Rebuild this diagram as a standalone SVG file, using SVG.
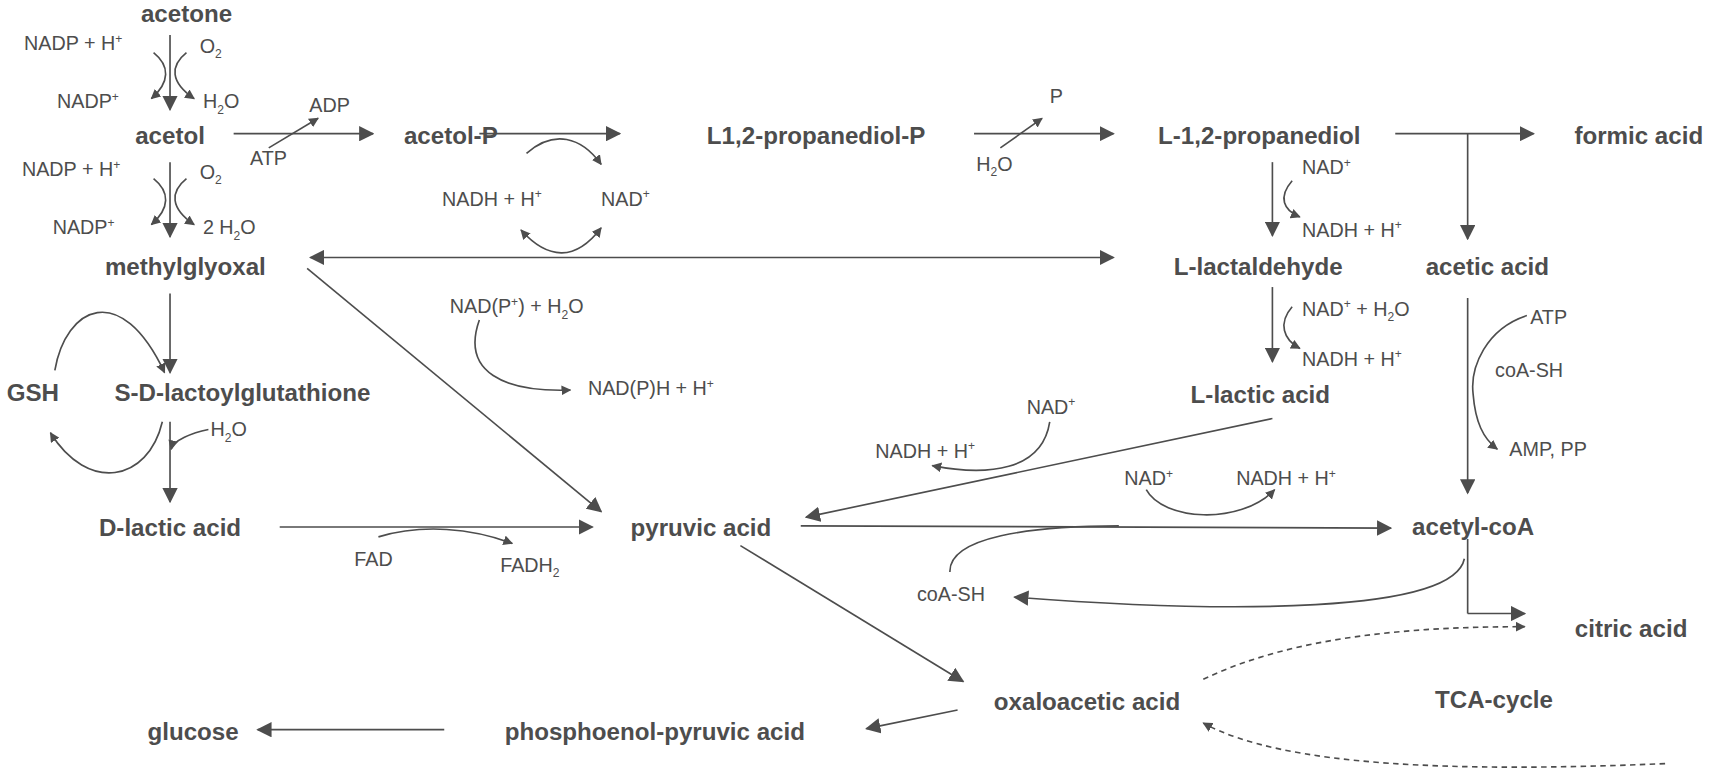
<svg xmlns="http://www.w3.org/2000/svg" width="1720" height="779" viewBox="0 0 1720 779">
<defs>
<marker id="a" viewBox="0 0 10 10" refX="9" refY="5" markerWidth="9" markerHeight="9" markerUnits="userSpaceOnUse" orient="auto-start-reverse"><path d="M0,0 L10,5 L0,10 z" fill="#4d4d4d"/></marker>
<marker id="b" viewBox="0 0 10 10" refX="9" refY="5" markerWidth="14" markerHeight="14" markerUnits="userSpaceOnUse" orient="auto-start-reverse"><path d="M0,0 L10,5 L0,10 z" fill="#4d4d4d"/></marker>
<style>
text{font-family:"Liberation Sans",Arial,sans-serif;fill:#4d4d4d}
.n{font-weight:bold;font-size:22px}
.s{font-size:18px}
.c path{fill:none;stroke:#4d4d4d;stroke-width:1.5}
.c .m{marker-end:url(#b)}
.c .k{marker-end:url(#a)}
.c .d{stroke-dasharray:5,4;marker-end:url(#a)}
</style>
</defs>
<rect width="1720" height="779" fill="#fff"/>
<g transform="scale(1.0969,1.0956)">
<g class="c" id="connectors">
<path class="m" d="M155,32 V100"/>
<path class="k" d="M140,48 C155,60 155,75 138,90"/>
<path class="k" d="M170,48 C155,60 155,75 177,90"/>
<path class="m" d="M213,122 H340"/>
<path class="k" d="M245,135 L290,108"/>
<path class="m" d="M155,148 V216"/>
<path class="k" d="M140,163 C155,175 155,190 138,205"/>
<path class="k" d="M170,163 C155,175 155,190 177,205"/>
<path class="m" d="M437,122 H565"/>
<path class="k" d="M480,140 C505,118 530,125 548,150"/>
<path class="k" style="marker-start:url(#a)" d="M475,210 C500,238 525,238 548,208"/>
<path class="m" d="M888,122 H1015"/>
<path class="k" d="M912,135 L950,108"/>
<path class="m" d="M1272,122 H1398"/>
<path class="m" d="M1338,122 V218"/>
<path class="m" d="M1160,148 V215"/>
<path class="k" d="M1178,165 C1165,180 1170,192 1185,198"/>
<path class="m" style="marker-start:url(#b)" d="M283,235 H1015"/>
<path class="m" d="M1160,262 V330"/>
<path class="k" d="M1178,280 C1165,295 1170,310 1185,318"/>
<path class="m" d="M1338,272 V450"/>
<path class="k" d="M1392,288 C1355,300 1340,335 1343,360 C1345,385 1352,400 1365,410"/>
<path class="m" d="M155,268 V340"/>
<path class="k" d="M50,338 C60,280 110,255 150,340"/>
<path class="k" d="M148,385 C135,440 80,450 46,395"/>
<path class="m" d="M155,385 V458"/>
<path class="k" d="M190,392 C175,395 158,402 156,410"/>
<path class="m" d="M255,481 H540"/>
<path class="k" d="M345,490 C385,478 430,482 467,496"/>
<path class="m" d="M280,245 L548,467"/>
<path class="k" d="M437,292 C420,340 460,358 520,356"/>
<path class="m" d="M1160,382 L735,472"/>
<path class="k" d="M957,385 C950,430 900,435 850,425"/>
<path class="m" d="M730,480 L1268,482"/>
<path class="k" d="M1045,447 C1060,475 1130,480 1162,447"/>
<path d="M866,522 C865,490 940,480 1020,480"/>
<path class="m" d="M1335,510 C1325,560 1120,560 925,545"/>
<path d="M1338,492 V560"/>
<path class="m" d="M1338,560 H1390"/>
<path class="m" d="M675,498 L878,622"/>
<path class="d" d="M1097,620 C1180,580 1290,572 1390,572"/>
<path class="d" d="M1518,697 C1330,705 1170,700 1097,660"/>
<path class="m" d="M873,648 L790,665"/>
<path class="m" d="M405,666 H235"/>
</g>
<g id="acetone"><text class="n" x="170" y="20" text-anchor="middle">acetone</text></g>
<g id="acetol"><text class="n" x="155" y="131" text-anchor="middle">acetol</text></g>
<g id="methylglyoxal"><text class="n" x="169" y="251" text-anchor="middle">methylglyoxal</text></g>
<g id="acetolP"><text class="n" x="411" y="131" text-anchor="middle">acetol-P</text></g>
<g id="propanediolP"><text class="n" x="744" y="131" text-anchor="middle">L1,2-propanediol-P</text></g>
<g id="propanediol"><text class="n" x="1148" y="131" text-anchor="middle">L-1,2-propanediol</text></g>
<g id="formic"><text class="n" x="1494" y="131" text-anchor="middle">formic acid</text></g>
<g id="lactaldehyde"><text class="n" x="1147" y="251" text-anchor="middle">L-lactaldehyde</text></g>
<g id="acetic"><text class="n" x="1356" y="251" text-anchor="middle">acetic acid</text></g>
<g id="lactic"><text class="n" x="1149" y="368" text-anchor="middle">L-lactic acid</text></g>
<g id="GSH"><text class="n" x="30" y="366" text-anchor="middle">GSH</text></g>
<g id="sdl"><text class="n" x="221" y="366" text-anchor="middle">S-D-lactoylglutathione</text></g>
<g id="dlactic"><text class="n" x="155" y="489" text-anchor="middle">D-lactic acid</text></g>
<g id="pyruvic"><text class="n" x="639" y="489" text-anchor="middle">pyruvic acid</text></g>
<g id="acetylcoa"><text class="n" x="1343" y="488" text-anchor="middle">acetyl-coA</text></g>
<g id="citric"><text class="n" x="1487" y="581" text-anchor="middle">citric acid</text></g>
<g id="oxalo"><text class="n" x="991" y="648" text-anchor="middle">oxaloacetic acid</text></g>
<g id="tca"><text class="n" x="1362" y="646" text-anchor="middle">TCA-cycle</text></g>
<g id="pep"><text class="n" x="597" y="675" text-anchor="middle">phosphoenol-pyruvic acid</text></g>
<g id="glucose"><text class="n" x="176" y="675" text-anchor="middle">glucose</text></g>
<g id="labels" class="s">
<text class="s" x="22" y="46">NADP + H<tspan font-size="11" dy="-7">+</tspan></text>
<text class="s" x="182" y="48">O<tspan font-size="11" dy="5">2</tspan></text>
<text class="s" x="52" y="99">NADP<tspan font-size="11" dy="-7">+</tspan></text>
<text class="s" x="185" y="99">H<tspan font-size="11" dy="5">2</tspan><tspan dy="-5">O</tspan></text>
<text class="s" x="282" y="102">ADP</text>
<text class="s" x="228" y="151">ATP</text>
<text class="s" x="20" y="161">NADP + H<tspan font-size="11" dy="-7">+</tspan></text>
<text class="s" x="182" y="163">O<tspan font-size="11" dy="5">2</tspan></text>
<text class="s" x="48" y="214">NADP<tspan font-size="11" dy="-7">+</tspan></text>
<text class="s" x="185" y="214">2 H<tspan font-size="11" dy="5">2</tspan><tspan dy="-5">O</tspan></text>
<text class="s" x="403" y="188">NADH + H<tspan font-size="11" dy="-7">+</tspan></text>
<text class="s" x="548" y="188">NAD<tspan font-size="11" dy="-7">+</tspan></text>
<text class="s" x="957" y="94">P</text>
<text class="s" x="890" y="156">H<tspan font-size="11" dy="5">2</tspan><tspan dy="-5">O</tspan></text>
<text class="s" x="1187" y="159">NAD<tspan font-size="11" dy="-7">+</tspan></text>
<text class="s" x="1187" y="216">NADH + H<tspan font-size="11" dy="-7">+</tspan></text>
<text class="s" x="1187" y="288">NAD<tspan font-size="11" dy="-7">+</tspan><tspan dy="7"> + H</tspan><tspan font-size="11" dy="5">2</tspan><tspan dy="-5">O</tspan></text>
<text class="s" x="1187" y="334">NADH + H<tspan font-size="11" dy="-7">+</tspan></text>
<text class="s" x="1395" y="296">ATP</text>
<text class="s" x="1363" y="344">coA-SH</text>
<text class="s" x="1376" y="416">AMP, PP</text>
<text class="s" x="410" y="286">NAD(P<tspan font-size="11" dy="-7">+</tspan><tspan dy="7">) + H</tspan><tspan font-size="11" dy="5">2</tspan><tspan dy="-5">O</tspan></text>
<text class="s" x="536" y="361">NAD(P)H + H<tspan font-size="11" dy="-7">+</tspan></text>
<text class="s" x="192" y="398">H<tspan font-size="11" dy="5">2</tspan><tspan dy="-5">O</tspan></text>
<text class="s" x="936" y="378">NAD<tspan font-size="11" dy="-7">+</tspan></text>
<text class="s" x="798" y="418">NADH + H<tspan font-size="11" dy="-7">+</tspan></text>
<text class="s" x="1025" y="443">NAD<tspan font-size="11" dy="-7">+</tspan></text>
<text class="s" x="1127" y="443">NADH + H<tspan font-size="11" dy="-7">+</tspan></text>
<text class="s" x="323" y="517">FAD</text>
<text class="s" x="456" y="522">FADH<tspan font-size="11" dy="5">2</tspan></text>
<text class="s" x="836" y="549">coA-SH</text>
</g>
</g>
</svg>
